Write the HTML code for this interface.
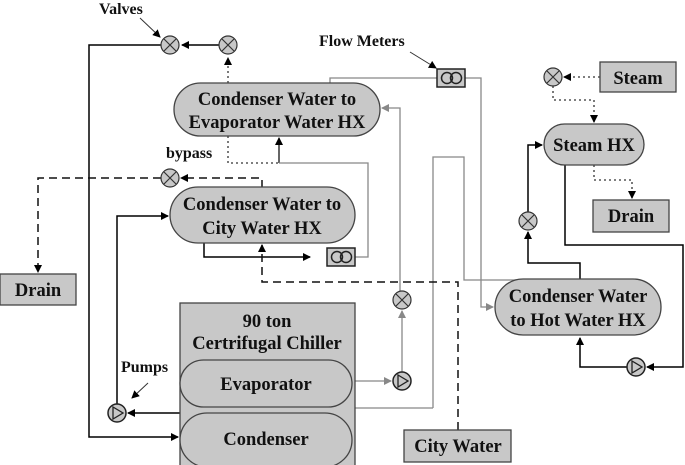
<!DOCTYPE html>
<html><head><style>body{margin:0;background:#fff}svg{display:block}text{font-family:"Liberation Serif",serif;font-weight:bold;fill:#111}</style></head><body>
<svg width="685" height="465" viewBox="0 0 685 465" xmlns="http://www.w3.org/2000/svg">
<defs>
<marker id="a" markerWidth="8" markerHeight="8" refX="7" refY="4" orient="auto" markerUnits="userSpaceOnUse"><path d="M0,0L8,4L0,8z" fill="#000"/></marker>
<marker id="g" markerWidth="8" markerHeight="8" refX="7" refY="4" orient="auto" markerUnits="userSpaceOnUse"><path d="M0,0L8,4L0,8z" fill="#888"/></marker>
<g id="v"><circle r="9" fill="#c8c8c8" stroke="#333" stroke-width="1.2"/><path d="M-6,-6L6,6M-6,6L6,-6" stroke="#333" stroke-width="1.2"/></g>
<g id="p"><circle r="9" fill="#c8c8c8" stroke="#222" stroke-width="1.5"/><path d="M-4,-6L6,0L-4,6z" fill="none" stroke="#222" stroke-width="1.3"/></g>
<g id="f"><rect x="-14" y="-9" width="28" height="18" fill="#c8c8c8" stroke="#222" stroke-width="1.5"/><circle cx="-4" cy="0" r="5.5" fill="none" stroke="#222" stroke-width="1.5"/><circle cx="5" cy="0" r="5.5" fill="none" stroke="#222" stroke-width="1.5"/></g>
</defs>
<g fill="none" stroke-width="1.5">
<path d="M161,45H89V437H178" stroke="#000" marker-end="url(#a)"/>
<path d="M219,45H182" stroke="#000" marker-end="url(#a)"/>
<path d="M117,404V216H168" stroke="#000" marker-end="url(#a)"/>
<path d="M204,243V257H310" stroke="#000" marker-end="url(#a)"/>
<path d="M210,413H128" stroke="#000" marker-end="url(#a)"/>
<path d="M580,279V263H528V232" stroke="#000" marker-end="url(#a)"/>
<path d="M528,212V145H542" stroke="#000" marker-end="url(#a)"/>
<path d="M565,165V245H683V367H647" stroke="#000" marker-end="url(#a)"/>
<path d="M627,367H580V338" stroke="#000" marker-end="url(#a)"/>
<path d="M279,163V138" stroke="#000" stroke-width="1.2" marker-end="url(#a)"/>
<g stroke="#888" stroke-width="1.3">
<path d="M279,163H368V257H355"/>
<path d="M330,83V78H437"/>
<path d="M465,78H481V307H493" marker-end="url(#g)"/>
<path d="M400,291V108H382" marker-end="url(#g)"/>
<path d="M402,372V311" marker-end="url(#g)"/>
<path d="M352,381H391" marker-end="url(#g)"/>
<path d="M433,408V157H464V280H530"/>
<path d="M433,408H315" marker-end="url(#g)"/>
</g>
<g stroke="#333" stroke-width="1.3" stroke-dasharray="2,3">
<path d="M228,83V58" marker-end="url(#a)"/>
<path d="M228,136V163H279"/>
<path d="M600,77H564" marker-end="url(#a)"/>
<path d="M553,86V100H594V122" marker-end="url(#a)"/>
<path d="M594,165V180H632V198" marker-end="url(#a)"/>
</g>
<g stroke="#111" stroke-width="1.5" stroke-dasharray="8,5">
<path d="M262,188V178H181" marker-end="url(#a)"/>
<path d="M161,178H38V272" marker-end="url(#a)"/>
<path d="M458,430V282H262V245" marker-end="url(#a)"/>
</g>
<path d="M140,18L160,37" stroke="#333" stroke-width="1" marker-end="url(#a)"/>
<path d="M410,52L436,68" stroke="#333" stroke-width="1" marker-end="url(#a)"/>
<path d="M148,383L132,398" stroke="#333" stroke-width="1" marker-end="url(#a)"/>
</g>
<g fill="#c8c8c8" stroke="#444" stroke-width="1.3">
<rect x="174" y="83" width="206" height="53" rx="26.5"/>
<rect x="170" y="187" width="185" height="56" rx="28"/>
<rect x="495" y="279" width="166" height="56" rx="28"/>
<rect x="544" y="124" width="100" height="41" rx="20.5"/>
<rect x="600" y="62" width="76" height="30"/>
<rect x="593" y="200" width="76" height="32"/>
<rect x="0" y="274" width="76" height="31"/>
<rect x="404" y="430" width="107" height="32"/>
<rect x="180" y="303" width="175" height="163"/>
<rect x="180" y="360" width="172" height="47" rx="23.5"/>
<rect x="180" y="413" width="172" height="54" rx="27"/>
</g>
<use href="#v" x="170" y="45"/><use href="#v" x="228" y="45"/><use href="#v" x="170" y="178"/>
<use href="#v" x="402" y="300"/><use href="#v" x="553" y="77"/><use href="#v" x="528" y="221"/>
<use href="#p" x="117" y="413"/><use href="#p" x="402" y="381"/><use href="#p" x="636" y="367"/>
<use href="#f" x="451" y="78"/><use href="#f" x="341" y="257"/>
<g font-size="18.5" text-anchor="middle">
<text x="277" y="105">Condenser Water to</text>
<text x="277" y="128">Evaporator Water HX</text>
<text x="262" y="210">Condenser Water to</text>
<text x="262" y="234">City Water HX</text>
<text x="578" y="302">Condenser Water</text>
<text x="578" y="326">to Hot Water HX</text>
<text x="594" y="151">Steam HX</text>
<text x="638" y="84">Steam</text>
<text x="631" y="222">Drain</text>
<text x="38" y="296">Drain</text>
<text x="458" y="452">City Water</text>
<text x="267" y="327">90 ton</text>
<text x="267" y="349">Certrifugal Chiller</text>
<text x="266" y="390">Evaporator</text>
<text x="266" y="445">Condenser</text>
</g>
<g font-size="16">
<text x="99" y="14">Valves</text>
<text x="319" y="46">Flow Meters</text>
<text x="166" y="158">bypass</text>
<text x="121" y="372">Pumps</text>
</g>
</svg>
</body></html>
